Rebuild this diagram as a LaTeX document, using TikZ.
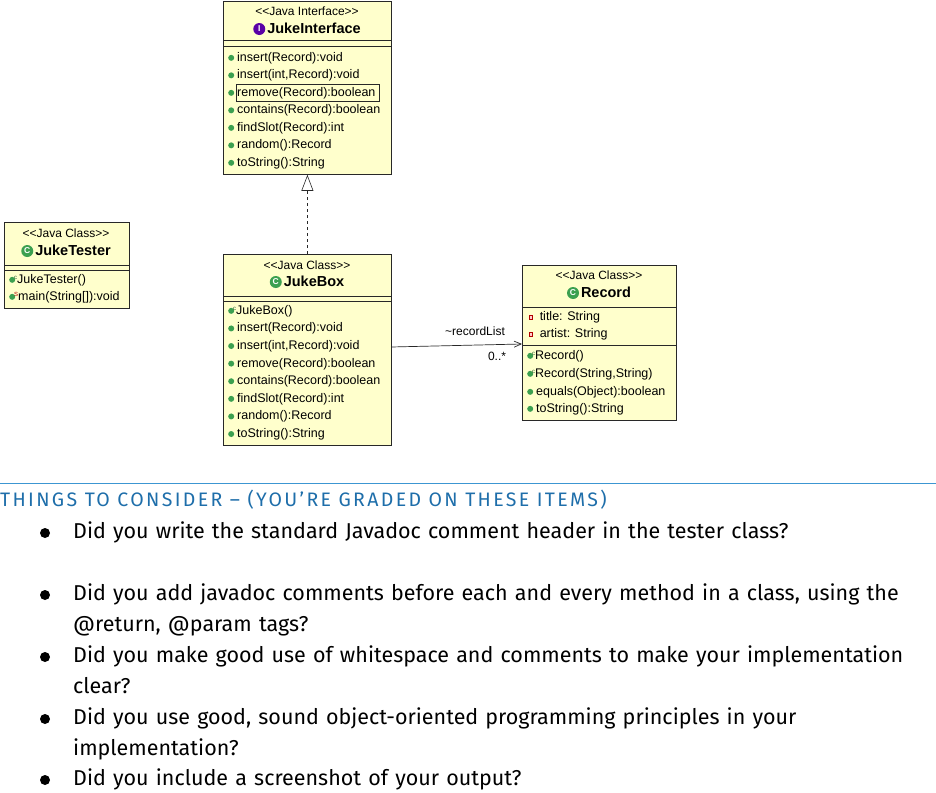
\documentclass[tikz,border=0pt]{standalone}
\usepackage{fontspec}
\setmainfont{Liberation Sans}
\newfontfamily\bodyfont{Fira Sans}
\usetikzlibrary{arrows.meta}
\hyphenpenalty=10000
\definecolor{umlfill}{RGB}{255,255,204}
\definecolor{umlline}{RGB}{40,40,40}
\definecolor{icongreen}{RGB}{60,160,80}
\definecolor{headblue}{RGB}{30,110,170}
\definecolor{rulblue}{RGB}{60,150,210}
\tikzset{
 umlbox/.style={draw=umlline,fill=umlfill,line width=0.8pt},
 stereo/.style={font=\fontsize{12}{13}\selectfont,anchor=center},
 title/.style={font=\fontsize{14.5}{15}\selectfont\bfseries,anchor=center},
 member/.style={font=\fontsize{12.5}{13}\selectfont,anchor=west,inner sep=0pt},
 bullettext/.style={font=\bodyfont\fontsize{21.5}{31}\selectfont,anchor=north west,inner sep=0pt,text width=850pt,align=left},
}
\newcommand{\gdot}{\tikz[baseline=-3.4pt]\fill[icongreen] (0,0) circle (3pt);\hspace{3pt}}
\newcommand{\st}{\textless\kern0pt\textless\kern0pt}
\newcommand{\en}{\kern0pt\textgreater\kern0pt\textgreater}
\newcommand{\ticon}[2]{\tikz[baseline=-4.5pt]{\fill[#1] (0,0) circle (6pt);\node[text=white,font=\fontsize{8.5}{8.5}\selectfont\bfseries,inner sep=0pt] at (0,0){#2};}\hspace{2pt}}
\begin{document}
\begin{tikzpicture}[x=1pt,y=-1pt]
\useasboundingbox (0,0) rectangle (936,792);
% JukeInterface
\node[umlbox,minimum width=168pt,minimum height=173pt,anchor=north west] (ji) at (223,1) {};
\draw[umlline] (223,40) -- (391,40) (223,46) -- (391,46);
\node[stereo] (jis) at (307,11) {\st Java Interface\en};
\node[title] (jit) at (307,29) {\ticon{violet!70!blue}{I}JukeInterface};
\foreach \t [count=\i] in {{insert(Record):void},{insert(int,Record):void},{remove(Record):boolean},{contains(Record):boolean},{findSlot(Record):int},{random():Record},{toString():String}}
  \node[member] (jim\i) at (228,40.5+17.5*\i) {\gdot\t};
\draw[umlline,line width=0.6pt] (236.5,84.5) rectangle (379,101);
% JukeTester
\node[umlbox,minimum width=125pt,minimum height=86pt,anchor=north west] (jt) at (4,222) {};
\draw[umlline] (4,265) -- (129,265) (4,270) -- (129,270);
\node[stereo] (jts) at (66,233) {\st Java Class\en};
\node[title] (jtt) at (66,251) {\ticon{icongreen}{C}JukeTester};
\node[member] (jtm1) at (9,280) {\gdot\hspace{-4pt}\raisebox{4pt}{\fontsize{6}{6}\selectfont\color{icongreen!60!black}c}JukeTester()};
\node[member] (jtm2) at (9,297) {\gdot\hspace{-4pt}\raisebox{4pt}{\fontsize{6}{6}\selectfont\color{red!70!black}S}main(String[]):void};
% JukeBox
\node[umlbox,minimum width=168pt,minimum height=191pt,anchor=north west] (jb) at (223,254) {};
\draw[umlline] (223,296) -- (391,296) (223,301) -- (391,301);
\node[stereo] (jbs) at (307,265) {\st Java Class\en};
\node[title] (jbt) at (307,282) {\ticon{icongreen}{C}JukeBox};
\node[member] (jbm0) at (228,311) {\gdot\hspace{-4pt}\raisebox{4pt}{\fontsize{6}{6}\selectfont\color{icongreen!60!black}c}JukeBox()};
\foreach \t [count=\i] in {{insert(Record):void},{insert(int,Record):void},{remove(Record):boolean},{contains(Record):boolean},{findSlot(Record):int},{random():Record},{toString():String}}
  \node[member] (jbm\i) at (228,311+17.6*\i) {\gdot\t};
% Record
\node[umlbox,minimum width=154pt,minimum height=155pt,anchor=north west] (rc) at (522,265) {};
\draw[umlline] (522,307) -- (676,307) (522,345) -- (676,345);
\node[stereo] (rcs) at (599,275) {\st Java Class\en};
\node[title] (rct) at (599,293) {\ticon{icongreen}{C}Record};
\node[member] (rca1) at (529,317) {\tikz[baseline=-3pt]\draw[red!70!black,fill=red!20] (-1.6pt,-1.6pt) rectangle (1.6pt,1.6pt);\; title: String};
\node[member] (rca2) at (529,334) {\tikz[baseline=-3pt]\draw[red!70!black,fill=red!20] (-1.6pt,-1.6pt) rectangle (1.6pt,1.6pt);\; artist: String};
\node[member] (rcm1) at (527,356) {\gdot\hspace{-4pt}\raisebox{4pt}{\fontsize{6}{6}\selectfont\color{icongreen!60!black}c}Record()};
\node[member] (rcm2) at (527,374) {\gdot\hspace{-4pt}\raisebox{4pt}{\fontsize{6}{6}\selectfont\color{icongreen!60!black}c}Record(String,String)};
\node[member] (rcm3) at (527,392) {\gdot equals(Object):boolean};
\node[member] (rcm4) at (527,409) {\gdot toString():String};
% connectors
\draw[umlline,dashed,line width=0.6pt,-{Triangle[open,length=16pt,width=12pt]}] (jb.north) -- (ji.south);
\coordinate (a1) at (391,347);
\coordinate (a2) at (522,344);
\draw[umlline,line width=0.7pt,-{Straight Barb[length=7pt,width=6pt]}] (a1) -- (a2);
\node[font=\fontsize{12}{13}\selectfont] (lbl1) at (475,331) {\textasciitilde recordList};
\node[font=\fontsize{12}{13}\selectfont] (lbl2) at (497,356) {0..*};
% bottom text
\draw[rulblue,line width=1pt] (0,483) -- (936,483);
\node[anchor=west,inner sep=0pt,text=headblue,font=\bodyfont\fontsize{19.5}{20}\selectfont] (hd) at (0,500) {\addfontfeature{LetterSpace=12}THINGS TO CONSIDER – (YOU’RE GRADED ON THESE ITEMS)};
\foreach \y in {533,595,657,719,780}
  \fill (45,\y) circle (5pt);
\node[bullettext] (b1) at (73,522) {Did you write the standard Javadoc comment header in the tester class?};
\node[bullettext] (b2) at (73,584) {Did you add javadoc comments before each and every method in a class, using the @return, @param tags?};
\node[bullettext] (b3) at (73,646) {Did you make good use of whitespace and comments to make your implementation clear?};
\node[bullettext] (b4) at (73,708) {Did you use good, sound object-oriented programming principles in your implementation?};
\node[bullettext] (b5) at (73,769) {Did you include a screenshot of your output?};
\end{tikzpicture}
\end{document}
